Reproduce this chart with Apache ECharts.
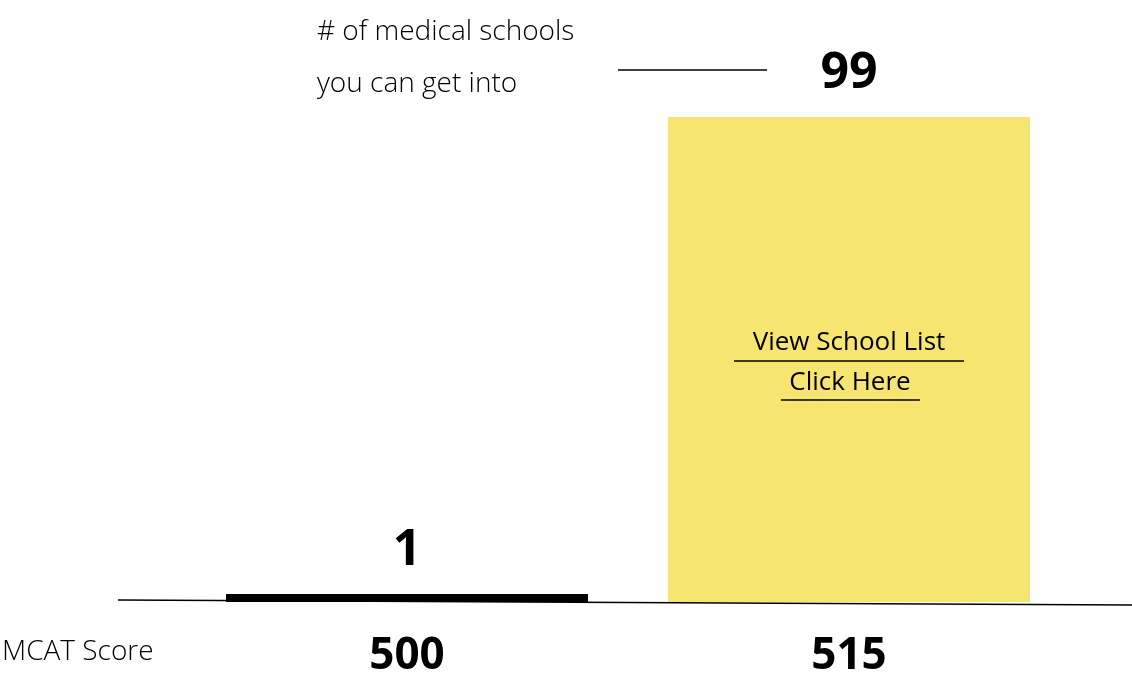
<!DOCTYPE html>
<html style="height: 100%">
<head>
<meta charset="utf-8">
<script src="https://cdn.jsdelivr.net/npm/echarts@6/dist/echarts.min.js"></script>
</head>
<body style="height: 100%; margin: 0; background: #fff">
<div id="main" style="height: 682px; width: 1132px"></div>
<script type="text/javascript">
var scores = ['500', '515'];
var schools = [1, 99];
var barColors = ['#000000', '#F7E571'];

var font = '"Open Sans", sans-serif';
var chart = echarts.init(document.getElementById('main'));

var option = {
    animation: false,
    grid: {left: 186, right: 62, top: 117, bottom: 80},
    xAxis: {
        type: 'category',
        data: scores,
        axisLine: {show: false},
        axisTick: {show: false},
        axisLabel: {margin: 32, fontSize: 44, fontWeight: 'bold', color: '#000', fontFamily: font, letterSpacing: 2}
    },
    yAxis: {type: 'value', min: 0, max: 99, show: false},
    series: [{
        type: 'bar',
        barWidth: 362,
        barMinHeight: 8,
        data: schools.map(function (v, i) {
            return {value: v, itemStyle: {color: barColors[i]}};
        }),
        label: {
            show: true, position: 'top', distance: 18,
            fontSize: 50, fontWeight: 'bold', color: '#000', fontFamily: font, letterSpacing: 2
        }
    }],
    graphic: [
        {type: 'line', z: 100, shape: {x1: 118, y1: 600, x2: 1132, y2: 605}, style: {stroke: '#000', lineWidth: 1.5}},
        {type: 'text', z: 100, left: 2, top: 638, style: {text: 'MCAT Score', fontSize: 28, fill: '#000', fontFamily: font, fontWeight: 300, letterSpacing: 1}},
        {type: 'text', z: 100, left: 317, top: 6, style: {text: '# of medical schools\nyou can get into', fontSize: 28, lineHeight: 52, fill: '#000', fontFamily: font, fontWeight: 300, letterSpacing: 1}},
        {type: 'line', z: 100, shape: {x1: 618, y1: 70, x2: 767, y2: 70}, style: {stroke: '#000', lineWidth: 1.5}},
        {type: 'text', z: 100, x: 849, y: 343, style: {text: 'View School List', fontSize: 26, fill: '#000', fontFamily: font, align: 'center', verticalAlign: 'middle'}},
        {type: 'line', z: 100, shape: {x1: 734, y1: 361, x2: 964, y2: 361}, style: {stroke: '#000', lineWidth: 1.5}},
        {type: 'text', z: 100, x: 850, y: 383, style: {text: 'Click Here', fontSize: 26, fill: '#000', fontFamily: font, align: 'center', verticalAlign: 'middle'}},
        {type: 'line', z: 100, shape: {x1: 781, y1: 400, x2: 920, y2: 400}, style: {stroke: '#000', lineWidth: 1.5}}
    ]
};
chart.setOption(option);
</script>
</body>
</html>
